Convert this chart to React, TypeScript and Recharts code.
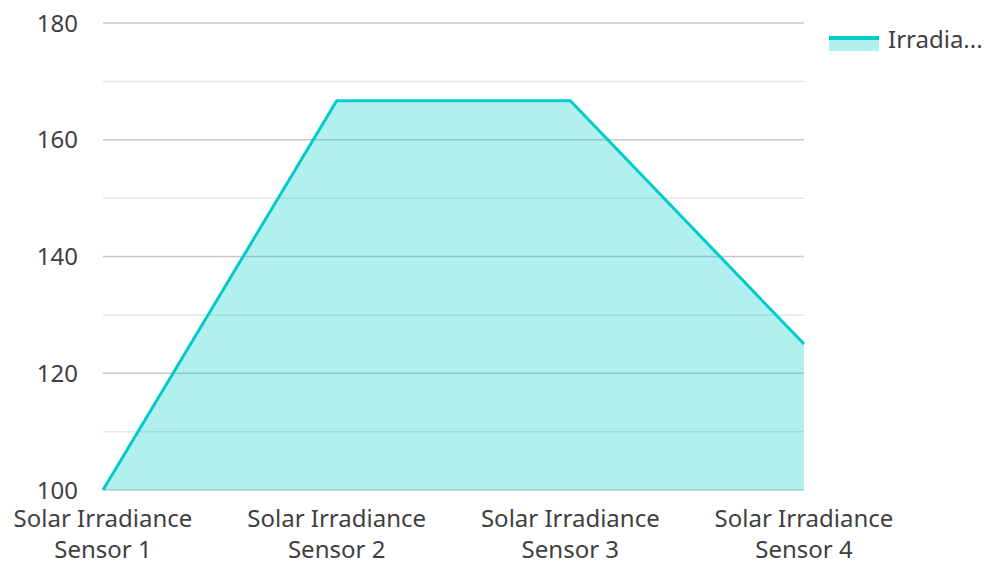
import { Area, AreaChart, CartesianGrid, XAxis, YAxis } from 'recharts'

const categories = ['Solar Irradiance Sensor 1', 'Solar Irradiance Sensor 2', 'Solar Irradiance Sensor 3', 'Solar Irradiance Sensor 4']
const irradiance = [100, 166.7, 166.7, 125]
const yTicks = [100, 110, 120, 130, 140, 150, 160, 170, 180]

const data = categories.map((name, i) => ({ name, Irradiance: irradiance[i] }))

const FONT = '"Noto Sans", "Open Sans", sans-serif'
const TEXT = '#3f3f3f'
const TEAL = '#00CCCC'

function CategoryTick({ x, y, payload }: any) {
  const label: string = payload.value
  const cut = label.lastIndexOf(' Sensor')
  const lines = cut > 0 ? [label.slice(0, cut), label.slice(cut + 1)] : [label]
  return (
    <text x={x} y={y} textAnchor="middle" fill={TEXT} fontSize={24} fontFamily={FONT}>
      {lines.map((l, i) => (
        <tspan key={i} x={x} dy={i === 0 ? 29 : 31}>
          {l}
        </tspan>
      ))}
    </text>
  )
}

function GridLine(props: any) {
  const major = props.index % 2 === 0
  return (
    <line
      key={props.key}
      x1={props.x1}
      x2={props.x2}
      y1={props.y1}
      y2={props.y2}
      stroke={major ? '#c8c8c8' : '#e6e6e6'}
      strokeWidth={1.5}
    />
  )
}

function LegendBox() {
  return (
    <div
      style={{
        position: 'absolute',
        left: 829,
        top: 22,
        display: 'flex',
        alignItems: 'center',
        fontFamily: FONT,
        fontSize: 24,
        color: TEXT,
        whiteSpace: 'nowrap',
      }}
    >
      <svg width={50} height={26} style={{ marginRight: 9 }}>
        <rect x={0} y={12} width={50} height={13} fill={TEAL} fillOpacity={0.3} />
        <line x1={0} x2={50} y1={12} y2={12} stroke={TEAL} strokeWidth={4} />
      </svg>
      <span>Irradia...</span>
    </div>
  )
}

export default function App() {
  return (
    <div style={{ position: 'absolute', left: 0, top: 0, width: 990, height: 562, background: '#fff' }}>
      <AreaChart width={990} height={562} data={data} margin={{ top: 23, right: 186, left: 0, bottom: 0 }}>
        <CartesianGrid vertical={false} horizontal={GridLine as any} />
        <XAxis
          dataKey="name"
          axisLine={false}
          tickLine={false}
          interval={0}
          height={72}
          tick={<CategoryTick />}
        />
        <YAxis
          domain={[100, 180]}
          ticks={yTicks}
          interval={0}
          axisLine={false}
          tickLine={false}
          width={103}
          tickMargin={19}
          tickFormatter={(v: number) => (v % 20 === 0 ? String(v) : '')}
          tick={{ fontSize: 24, fill: TEXT, fontFamily: FONT }}
        />
        <Area
          type="linear"
          dataKey="Irradiance"
          stroke={TEAL}
          strokeWidth={3}
          fill={TEAL}
          fillOpacity={0.3}
          dot={false}
          activeDot={false}
          isAnimationActive={false}
        />
      </AreaChart>
      <LegendBox />
    </div>
  )
}
